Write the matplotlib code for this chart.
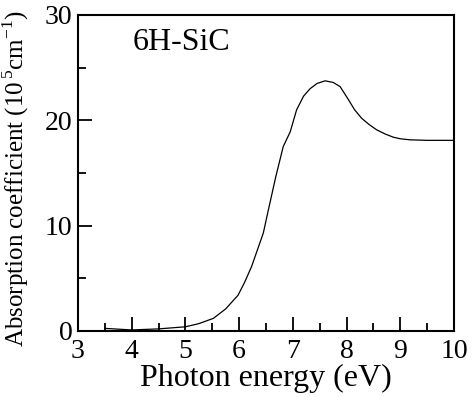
import matplotlib
matplotlib.use("Agg")
import matplotlib.pyplot as plt
from matplotlib.ticker import MultipleLocator

# absorption spectrum of 6H-SiC
energy = [3.5, 4.0, 4.5, 5.0, 5.25, 5.52, 5.75, 5.98, 6.1, 6.23, 6.34, 6.45,
          6.54, 6.68, 6.82, 6.95, 7.07, 7.2, 7.32, 7.45, 7.6, 7.75, 7.88,
          8.03, 8.15, 8.28, 8.42, 8.56, 8.72, 8.87, 9.0, 9.18, 9.5, 10.0]
alpha = [0.25, 0.1, 0.2, 0.4, 0.7, 1.2, 2.1, 3.4, 4.6, 6.1, 7.7, 9.3,
         11.4, 14.6, 17.5, 18.9, 21.0, 22.3, 23.0, 23.5, 23.75, 23.6, 23.2,
         22.0, 21.0, 20.2, 19.6, 19.1, 18.7, 18.4, 18.25, 18.15, 18.1, 18.1]

plt.rcParams['font.family'] = ['Liberation Serif', 'DejaVu Serif']
plt.rcParams['mathtext.fontset'] = 'custom'
plt.rcParams['mathtext.rm'] = 'Liberation Serif'

fig = plt.figure(figsize=(4.74, 3.97), dpi=100)
ax = fig.add_axes([78 / 474, 1 - 331 / 397, (454 - 78) / 474, (331 - 15) / 397])

ax.plot(energy, alpha, color='black', lw=0.9)

ax.set_xlim(3, 10)
ax.set_ylim(0, 30)
ax.xaxis.set_major_locator(MultipleLocator(1))
ax.xaxis.set_minor_locator(MultipleLocator(0.5))
ax.yaxis.set_major_locator(MultipleLocator(10))
ax.yaxis.set_minor_locator(MultipleLocator(5))
ax.tick_params(which='both', direction='in', top=False, right=False,
               labelsize=20, width=1.3)
ax.tick_params(which='major', length=10)
ax.tick_params(which='minor', length=6)
ax.tick_params(axis='x', pad=6)
ax.tick_params(axis='y', pad=4)
for s in ax.spines.values():
    s.set_linewidth(1.5)

ax.set_xlabel('Photon energy (eV)', fontsize=23, labelpad=0)
# y label placed by hand so it sits where the original has it
fig.text(16 / 474, 1 - 178 / 397, r'Absorption coefficient (10$^{\,5}$cm$^{-1}$)',
         rotation=90, ha='center', va='center', fontsize=18)
ax.text(0.145, 0.89, '6H-SiC', transform=ax.transAxes, fontsize=23)

fig.savefig('out.png', dpi=100)
